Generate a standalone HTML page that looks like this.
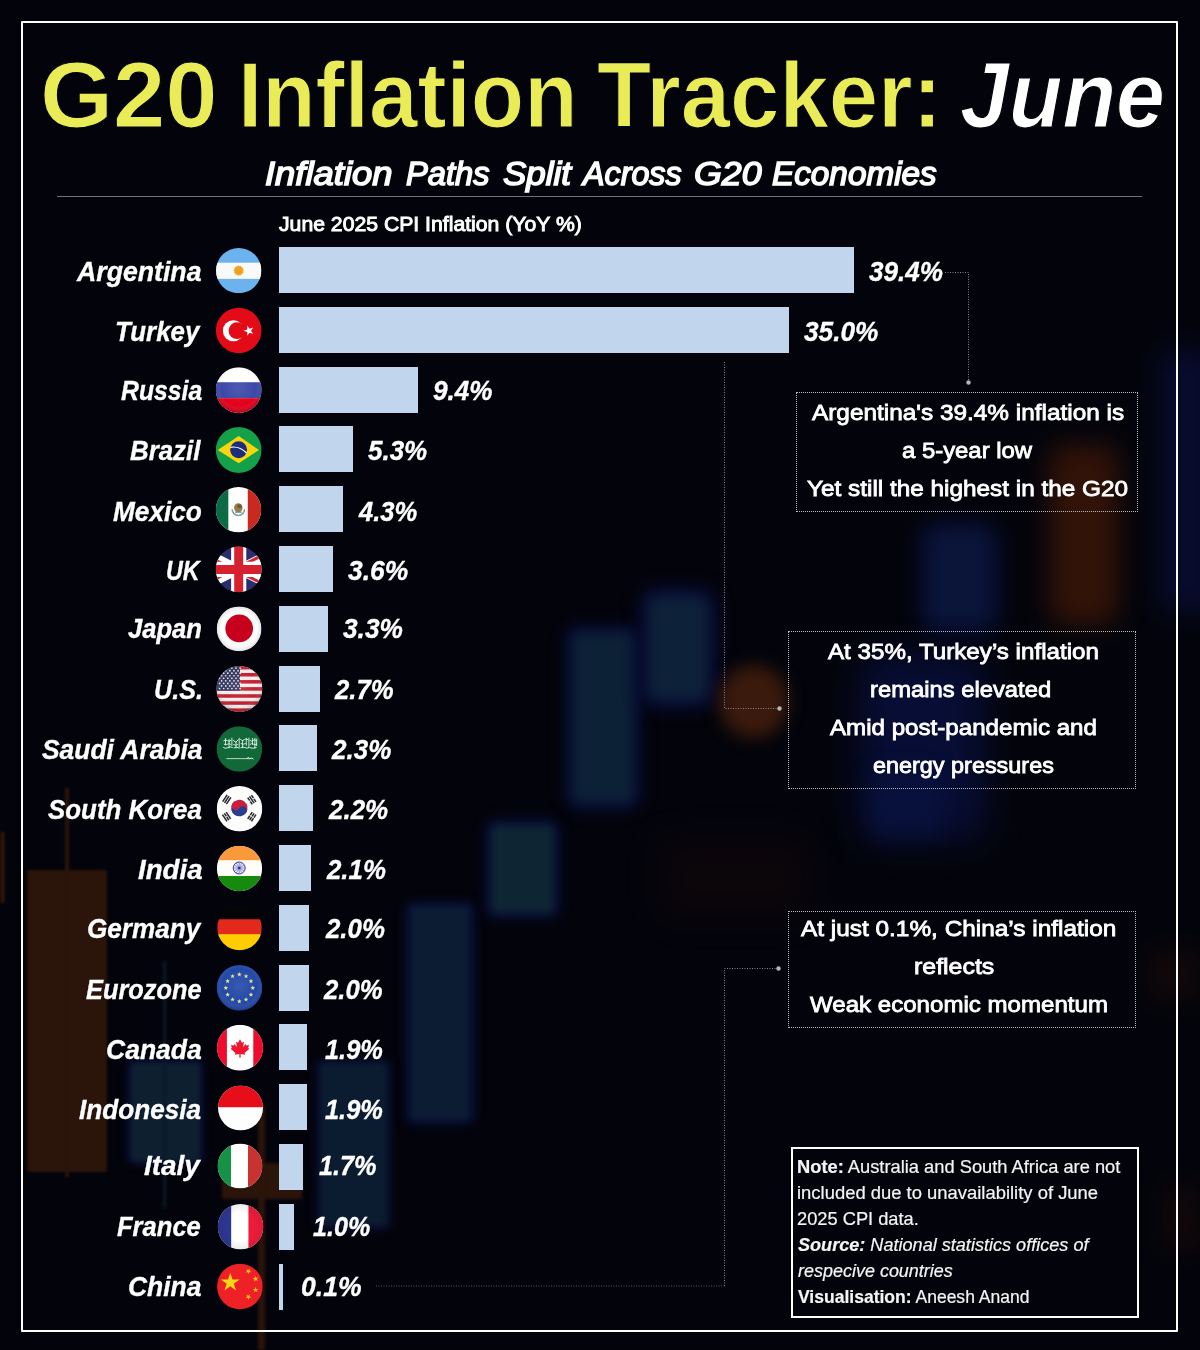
<!DOCTYPE html>
<html lang="en"><head><meta charset="utf-8"><title>G20 Inflation Tracker: June</title>
<style>
html,body{margin:0;padding:0}
body{width:1200px;height:1350px;background:#03040b;position:relative;overflow:hidden;font-family:"Liberation Sans",sans-serif;color:#fff}
.t{position:absolute;white-space:nowrap;line-height:1;transform-origin:0 0}
.bar{position:absolute;background:#c1d6ec}
.frame{position:absolute;left:21px;top:21px;width:1153px;height:1306.5px;border:2px solid #fff;border-radius:1px}
.rule{position:absolute;left:57px;top:196px;width:1085px;height:1px;background:#6f6f77}
.box{position:absolute;border:1px dotted #b9b9c0;box-sizing:border-box}
.note{position:absolute;left:791px;top:1147px;width:348px;height:171px;border:2px solid #fff;box-sizing:border-box}
.bg{position:absolute;left:0;top:0;width:1200px;height:1350px}
svg.ov{position:absolute;left:0;top:0}
.flag{position:absolute;width:46px;height:46px}
</style></head><body>
<div class="bg">
<div style="position:absolute;left:27px;top:870px;width:80px;height:302px;background:#2b140a;filter:blur(1.2px);border-radius:2px;"></div>
<div style="position:absolute;left:64.5px;top:788px;width:4.5px;height:389px;background:#2b140a;filter:blur(1px);"></div>
<div style="position:absolute;left:0px;top:832px;width:4.5px;height:71px;background:#2b140a;filter:blur(1px);"></div>
<div style="position:absolute;left:131px;top:1063px;width:69px;height:98px;background:#0e2030;filter:blur(2.5px);border-radius:3px;box-shadow:0 0 4px 4px #080d33;"></div>
<div style="position:absolute;left:163px;top:961px;width:3px;height:247px;background:#0b1a2a;filter:blur(1.5px);"></div>
<div style="position:absolute;left:320px;top:1063px;width:67px;height:163px;background:#0c1c30;filter:blur(3px);border-radius:3px;box-shadow:0 0 4px 4px #080d33;"></div>
<div style="position:absolute;left:410px;top:906px;width:60px;height:214px;background:#0c1d33;filter:blur(3.5px);border-radius:4px;box-shadow:0 0 5px 5px #080d36;"></div>
<div style="position:absolute;left:491px;top:825px;width:63px;height:88px;background:#0e2634;filter:blur(4.5px);border-radius:6px;box-shadow:0 0 6px 6px #080d38;"></div>
<div style="position:absolute;left:222px;top:1163px;width:80px;height:36px;background:#2b140a;filter:blur(1.5px);border-radius:2px;"></div>
<div style="position:absolute;left:258px;top:1105px;width:7px;height:245px;background:#2b140a;filter:blur(1.5px);"></div>
<div style="position:absolute;left:572px;top:632px;width:62px;height:171px;background:#0c2036;filter:blur(6px);border-radius:8px;box-shadow:0 0 7px 7px #080c3a;"></div>
<div style="position:absolute;left:648px;top:596px;width:60px;height:104px;background:#0d2138;filter:blur(7px);border-radius:10px;box-shadow:0 0 8px 8px #080c3e;"></div>
<div style="position:absolute;left:719px;top:665px;width:69px;height:73px;background:#3a1a0c;filter:blur(8px);border-radius:35px;"></div>
<div style="position:absolute;left:926px;top:528px;width:67px;height:100px;background:#0b163c;filter:blur(10px);border-radius:10px;box-shadow:0 0 6px 6px #080c38;opacity:0.95;"></div>
<div style="position:absolute;left:1049px;top:445px;width:70px;height:180px;background:#351408;filter:blur(13px);border-radius:16px;opacity:0.95;"></div>
<div style="position:absolute;left:1160px;top:350px;width:55px;height:262px;background:#090d32;filter:blur(14px);border-radius:10px;opacity:0.9;"></div>
<div style="position:absolute;left:860px;top:655px;width:125px;height:185px;background:#080f3a;filter:blur(18px);border-radius:20px;opacity:0.9;"></div>
<div style="position:absolute;left:870px;top:770px;width:70px;height:68px;background:#0a1442;filter:blur(10px);border-radius:10px;opacity:0.6;"></div>
<div style="position:absolute;left:1150px;top:950px;width:50px;height:50px;background:#2a0f08;filter:blur(12px);border-radius:10px;opacity:0.4;"></div>
<div style="position:absolute;left:1165px;top:1185px;width:35px;height:65px;background:#2a0f08;filter:blur(12px);border-radius:10px;opacity:0.4;"></div>
<div style="position:absolute;left:660px;top:840px;width:150px;height:75px;background:#1c0a0a;filter:blur(16px);border-radius:10px;opacity:0.35;"></div>
</div>
<div class="frame"></div>
<div class="rule"></div>
<div class="bar" style="left:279.0px;top:246.9px;width:574.8px;height:46.1px"></div>
<div class="bar" style="left:279.0px;top:306.8px;width:510.2px;height:46.1px"></div>
<div class="bar" style="left:279.0px;top:366.6px;width:139.0px;height:46.1px"></div>
<div class="bar" style="left:279.0px;top:426.3px;width:73.7px;height:46.1px"></div>
<div class="bar" style="left:279.0px;top:486.1px;width:63.7px;height:46.1px"></div>
<div class="bar" style="left:279.0px;top:546.0px;width:54.3px;height:46.1px"></div>
<div class="bar" style="left:279.0px;top:605.8px;width:48.7px;height:46.1px"></div>
<div class="bar" style="left:279.0px;top:665.5px;width:41.0px;height:46.1px"></div>
<div class="bar" style="left:279.0px;top:725.4px;width:37.7px;height:46.1px"></div>
<div class="bar" style="left:279.0px;top:785.1px;width:34.0px;height:46.1px"></div>
<div class="bar" style="left:279.0px;top:845.0px;width:32.0px;height:46.1px"></div>
<div class="bar" style="left:279.0px;top:904.8px;width:30.3px;height:46.1px"></div>
<div class="bar" style="left:279.0px;top:964.5px;width:30.3px;height:46.1px"></div>
<div class="bar" style="left:279.0px;top:1024.4px;width:28.0px;height:46.1px"></div>
<div class="bar" style="left:279.0px;top:1084.1px;width:28.0px;height:46.1px"></div>
<div class="bar" style="left:279.0px;top:1144.0px;width:24.0px;height:46.1px"></div>
<div class="bar" style="left:279.0px;top:1203.8px;width:15.0px;height:46.1px"></div>
<div class="bar" style="left:279.0px;top:1263.5px;width:4.0px;height:46.1px;"></div>
<svg class="ov" width="1200" height="1350" viewBox="0 0 1200 1350" fill="none" stroke="#85858d" stroke-width="1" stroke-dasharray="1 1.5">
<path d="M945 272.5H968.5V381"/>
<path d="M724.5 362V708.5H778"/>
<path d="M376 1286H724.5" stroke="#55555f"/><path d="M724.5 1286V968.5H777"/>
<g stroke="none" fill="#b5b5bb"><circle cx="968.5" cy="382.5" r="2.2"/><circle cx="779.5" cy="708.5" r="2.2"/><circle cx="778.5" cy="968.5" r="2.2"/></g>
</svg>
<div class="box" style="left:796px;top:391.5px;width:342px;height:120px"></div>
<div class="box" style="left:788px;top:631px;width:348px;height:158px"></div>
<div class="box" style="left:788px;top:911px;width:348px;height:117px"></div>
<div class="note"></div>
<svg class="ov" width="1200" height="1350" viewBox="0 0 1200 1350"><defs>
<radialGradient id="gloss" cx="0.5" cy="0.45" r="0.55"><stop offset="0" stop-color="#fff" stop-opacity="0.10"/><stop offset="0.7" stop-color="#fff" stop-opacity="0"/><stop offset="1" stop-color="#000" stop-opacity="0.22"/></radialGradient>
<radialGradient id="gloss2" cx="0.5" cy="0.5" r="0.5"><stop offset="0.8" stop-color="#000" stop-opacity="0"/><stop offset="1" stop-color="#000" stop-opacity="0.10"/></radialGradient>
<radialGradient id="gloss3" cx="0.5" cy="0.5" r="0.5"><stop offset="0.6" stop-color="#000" stop-opacity="0"/><stop offset="1" stop-color="#000" stop-opacity="0.08"/></radialGradient>
<clipPath id="fc"><circle cx="23" cy="23" r="23"/></clipPath></defs>
<g transform="translate(216.00 247.90) scale(0.9870)" clip-path="url(#fc)"><rect width="46" height="46" fill="#6cb2ee"/><rect y="15" width="46" height="16.4" fill="#f9f9f9"/>
<polygon points="23.00,17.40 23.88,18.59 25.14,17.83 25.50,19.26 26.96,19.04 26.74,20.50 28.17,20.86 27.41,22.12 28.60,23.00 27.41,23.88 28.17,25.14 26.74,25.50 26.96,26.96 25.50,26.74 25.14,28.17 23.88,27.41 23.00,28.60 22.12,27.41 20.86,28.17 20.50,26.74 19.04,26.96 19.26,25.50 17.83,25.14 18.59,23.88 17.40,23.00 18.59,22.12 17.83,20.86 19.26,20.50 19.04,19.04 20.50,19.26 20.86,17.83 22.12,18.59" fill="#f3b04a"/><circle cx="23" cy="23" r="3.9" fill="#eba21f"/></g>
<g transform="translate(215.90 307.70) scale(0.9913)" clip-path="url(#fc)"><rect width="46" height="46" fill="#e30b18"/><circle cx="17.6" cy="23.2" r="10.6" fill="#fff"/><circle cx="21.3" cy="23.2" r="8.5" fill="#e30b18"/>
<polygon points="27.90,23.20 31.63,21.99 31.63,18.06 33.94,21.24 37.67,20.03 35.36,23.20 37.67,26.37 33.94,25.16 31.63,28.34 31.63,24.41" fill="#fff"/></g>
<g transform="translate(215.80 367.20) scale(0.9957)" clip-path="url(#fc)"><rect width="46" height="46" fill="#fff"/><rect y="15.1" width="46" height="16" fill="#3b48a8"/><rect y="31.1" width="46" height="15" fill="#e2001b"/>
<circle cx="23" cy="23" r="23" fill="url(#gloss)"/></g>
<g transform="translate(215.80 427.10) scale(0.9957)" clip-path="url(#fc)"><rect width="46" height="46" fill="#15a04a"/><polygon points="2,23 23,8.9 43.4,23 23,36.3" fill="#f9d60b"/>
<circle cx="22.9" cy="22.8" r="8.5" fill="#1d2c7c"/><path d="M14.8 20.3Q23.5 18.6 30.9 26" stroke="#fff" stroke-width="1.2" fill="none"/></g>
<g transform="translate(215.80 487.00) scale(0.9870)" clip-path="url(#fc)"><rect width="46" height="46" fill="#fff"/><rect width="12.7" height="46" fill="#0a6b46"/><rect x="32.4" width="14" height="46" fill="#c9291f"/>
<path d="M16.5 22.5a6.3 6.3 0 0 0 12.6 0" stroke="#7fa58f" stroke-width="1.5" fill="none"/>
<ellipse cx="22.8" cy="21" rx="4.3" ry="4.6" fill="#9a7b4b"/><ellipse cx="24" cy="19.6" rx="2.2" ry="2" fill="#6e5a36"/><path d="M19.5 25.5h6.8" stroke="#5f8fa0" stroke-width="1.2"/></g>
<g transform="translate(215.75 546.45) scale(0.9978)" clip-path="url(#fc)"><rect width="46" height="46" fill="#2a2e6e"/>
<path d="M-23 0L69 46M-23 46L69 0" stroke="#fff" stroke-width="9"/>
<path d="M-23 0L23 23M69 46L23 23" stroke="#d2232f" stroke-width="3" transform="translate(-1.4 1.6)"/>
<path d="M-23 46L23 23M69 0L23 23" stroke="#d2232f" stroke-width="3" transform="translate(-1.4 -1.6)"/>
<path d="M23 0V46M0 23H46" stroke="#fff" stroke-width="15.2"/>
<path d="M23 0V46M0 23H46" stroke="#d8212e" stroke-width="9"/></g>
<g transform="translate(216.70 606.40) scale(0.9739)" clip-path="url(#fc)"><rect width="46" height="46" fill="#fdfdfd"/><circle cx="23.1" cy="22.6" r="14.2" fill="#c7001e"/><circle cx="23" cy="23" r="23" fill="url(#gloss2)"/></g>
<g transform="translate(216.40 665.90) scale(1.0000)" clip-path="url(#fc)"><rect width="46" height="46" fill="#f4ecec"/><rect y="0.00" width="46" height="3.54" fill="#c1212f"/><rect y="7.08" width="46" height="3.54" fill="#c1212f"/><rect y="14.15" width="46" height="3.54" fill="#c1212f"/><rect y="21.23" width="46" height="3.54" fill="#c1212f"/><rect y="28.31" width="46" height="3.54" fill="#c1212f"/><rect y="35.38" width="46" height="3.54" fill="#c1212f"/><rect y="42.46" width="46" height="3.54" fill="#c1212f"/><rect width="23.6" height="24.77" fill="#343a5e"/><circle cx="3.20" cy="2.20" r="0.85" fill="#e9e9f2"/><circle cx="7.30" cy="2.20" r="0.85" fill="#e9e9f2"/><circle cx="11.40" cy="2.20" r="0.85" fill="#e9e9f2"/><circle cx="15.50" cy="2.20" r="0.85" fill="#e9e9f2"/><circle cx="19.60" cy="2.20" r="0.85" fill="#e9e9f2"/><circle cx="23.70" cy="2.20" r="0.85" fill="#e9e9f2"/><circle cx="5.25" cy="4.75" r="0.85" fill="#e9e9f2"/><circle cx="9.35" cy="4.75" r="0.85" fill="#e9e9f2"/><circle cx="13.45" cy="4.75" r="0.85" fill="#e9e9f2"/><circle cx="17.55" cy="4.75" r="0.85" fill="#e9e9f2"/><circle cx="21.65" cy="4.75" r="0.85" fill="#e9e9f2"/><circle cx="3.20" cy="7.30" r="0.85" fill="#e9e9f2"/><circle cx="7.30" cy="7.30" r="0.85" fill="#e9e9f2"/><circle cx="11.40" cy="7.30" r="0.85" fill="#e9e9f2"/><circle cx="15.50" cy="7.30" r="0.85" fill="#e9e9f2"/><circle cx="19.60" cy="7.30" r="0.85" fill="#e9e9f2"/><circle cx="23.70" cy="7.30" r="0.85" fill="#e9e9f2"/><circle cx="5.25" cy="9.85" r="0.85" fill="#e9e9f2"/><circle cx="9.35" cy="9.85" r="0.85" fill="#e9e9f2"/><circle cx="13.45" cy="9.85" r="0.85" fill="#e9e9f2"/><circle cx="17.55" cy="9.85" r="0.85" fill="#e9e9f2"/><circle cx="21.65" cy="9.85" r="0.85" fill="#e9e9f2"/><circle cx="3.20" cy="12.40" r="0.85" fill="#e9e9f2"/><circle cx="7.30" cy="12.40" r="0.85" fill="#e9e9f2"/><circle cx="11.40" cy="12.40" r="0.85" fill="#e9e9f2"/><circle cx="15.50" cy="12.40" r="0.85" fill="#e9e9f2"/><circle cx="19.60" cy="12.40" r="0.85" fill="#e9e9f2"/><circle cx="23.70" cy="12.40" r="0.85" fill="#e9e9f2"/><circle cx="5.25" cy="14.95" r="0.85" fill="#e9e9f2"/><circle cx="9.35" cy="14.95" r="0.85" fill="#e9e9f2"/><circle cx="13.45" cy="14.95" r="0.85" fill="#e9e9f2"/><circle cx="17.55" cy="14.95" r="0.85" fill="#e9e9f2"/><circle cx="21.65" cy="14.95" r="0.85" fill="#e9e9f2"/><circle cx="3.20" cy="17.50" r="0.85" fill="#e9e9f2"/><circle cx="7.30" cy="17.50" r="0.85" fill="#e9e9f2"/><circle cx="11.40" cy="17.50" r="0.85" fill="#e9e9f2"/><circle cx="15.50" cy="17.50" r="0.85" fill="#e9e9f2"/><circle cx="19.60" cy="17.50" r="0.85" fill="#e9e9f2"/><circle cx="23.70" cy="17.50" r="0.85" fill="#e9e9f2"/><circle cx="5.25" cy="20.05" r="0.85" fill="#e9e9f2"/><circle cx="9.35" cy="20.05" r="0.85" fill="#e9e9f2"/><circle cx="13.45" cy="20.05" r="0.85" fill="#e9e9f2"/><circle cx="17.55" cy="20.05" r="0.85" fill="#e9e9f2"/><circle cx="21.65" cy="20.05" r="0.85" fill="#e9e9f2"/><circle cx="3.20" cy="22.60" r="0.85" fill="#e9e9f2"/><circle cx="7.30" cy="22.60" r="0.85" fill="#e9e9f2"/><circle cx="11.40" cy="22.60" r="0.85" fill="#e9e9f2"/><circle cx="15.50" cy="22.60" r="0.85" fill="#e9e9f2"/><circle cx="19.60" cy="22.60" r="0.85" fill="#e9e9f2"/><circle cx="23.70" cy="22.60" r="0.85" fill="#e9e9f2"/><circle cx="23" cy="23" r="23" fill="url(#gloss)"/></g>
<g transform="translate(216.60 726.20) scale(0.9913)" clip-path="url(#fc)"><rect width="46" height="46" fill="#11693a"/><g stroke="#e4f1e6" stroke-width="0.95" fill="none" stroke-linecap="round"><path d="M7.2 14.6q2-1.6 3.6 0t3.6-.2M7.6 18.2q1.6 1.5 3.4 0q1.6-1.4 3.2 0M7 21.6q2.4 1.4 4.6 0t4.4-.2M16.6 14l2.6 2.2l2.8-2.6M17.2 18.6q2 1.6 4 0M17.6 21.8q2.6-1.6 5.4.2M24.2 13.6q1.8 2 3.8 0t3.8.2M24.6 17.6q2.2 1.6 4.4 0M24.4 21.6q2-1.4 4.200 0t4.2-.2M33.6 14.400q1.600 1.6 3.2 0t3.2 0M33.800 18.200q1.800-1.400 3.400 0t3.200 0M34 21.800q2.600 1.200 6-.2"/><path d="M9 12.4v6M12.6 13.2v8.600M15.400 12v7.600M19.6 15.6v6.400M22.8 12.2v8.800M26.200 14.400v7.400M30 12.200v7M32.600 12v9.800M36.200 12.400v6M38.600 12.200v9.800M40.400 13v6.600" stroke-width="0.9"/></g><path d="M9.8 32.7H34.5" stroke="#e4f1e6" stroke-width="0.8"/><path d="M30.5 32.7l1.6-1.2l1.2 1.2l2.6-0.6l1.2 1.4" stroke="#e4f1e6" stroke-width="1" fill="none"/></g>
<g transform="translate(216.70 786.00) scale(0.9913)" clip-path="url(#fc)"><rect width="46" height="46" fill="#fdfdfd"/><g transform="rotate(33.7 22.8 22.3)"><path d="M14.5 22.3a8.3 8.3 0 0 1 16.6 0z" fill="#c9203d"/><path d="M14.5 22.3a8.3 8.3 0 0 0 16.6 0z" fill="#2c3d8e"/><circle cx="18.65" cy="22.3" r="4.15" fill="#c9203d"/><circle cx="26.95" cy="22.3" r="4.15" fill="#2c3d8e"/></g><g transform="translate(10.2 13.6) rotate(-56)" fill="#2b2b2e"><rect x="-4.1" y="-3.1" width="8.2" height="1.6"/><rect x="-4.1" y="-0.85" width="8.2" height="1.6"/><rect x="-4.1" y="1.4" width="8.2" height="1.6"/></g><g transform="translate(35.4 13.9) rotate(56)" fill="#2b2b2e"><rect x="-4.1" y="-3.1" width="3.7" height="1.6"/><rect x="0.4" y="-3.1" width="3.7" height="1.6"/><rect x="-4.1" y="-0.85" width="8.2" height="1.6"/><rect x="-4.1" y="1.4" width="3.7" height="1.6"/><rect x="0.4" y="1.4" width="3.7" height="1.6"/></g><g transform="translate(9.9 31) rotate(56)" fill="#2b2b2e"><rect x="-4.1" y="-3.1" width="8.2" height="1.6"/><rect x="-4.1" y="-0.85" width="3.7" height="1.6"/><rect x="0.4" y="-0.85" width="3.7" height="1.6"/><rect x="-4.1" y="1.4" width="8.2" height="1.6"/></g><g transform="translate(35.5 31) rotate(-56)" fill="#2b2b2e"><rect x="-4.1" y="-3.1" width="3.7" height="1.6"/><rect x="0.4" y="-3.1" width="3.7" height="1.6"/><rect x="-4.1" y="-0.85" width="3.7" height="1.6"/><rect x="0.4" y="-0.85" width="3.7" height="1.6"/><rect x="-4.1" y="1.4" width="3.7" height="1.6"/><rect x="0.4" y="1.4" width="3.7" height="1.6"/></g></g>
<g transform="translate(216.85 845.85) scale(0.9848)" clip-path="url(#fc)"><rect width="46" height="46" fill="#fffdf8"/><rect width="46" height="14.6" fill="#f8993b"/><rect y="30.6" width="46" height="16" fill="#158a0e"/>
<circle cx="22.7" cy="22.5" r="6.1" fill="#e8e9f7" stroke="#2c2f93" stroke-width="0.95"/><g stroke="#4a4fb0" stroke-width="0.55"><path d="M22.7 22.5L28.50 22.50"/><path d="M22.7 22.5L27.72 25.40"/><path d="M22.7 22.5L25.60 27.52"/><path d="M22.7 22.5L22.70 28.30"/><path d="M22.7 22.5L19.80 27.52"/><path d="M22.7 22.5L17.68 25.40"/><path d="M22.7 22.5L16.90 22.50"/><path d="M22.7 22.5L17.68 19.60"/><path d="M22.7 22.5L19.80 17.48"/><path d="M22.7 22.5L22.70 16.70"/><path d="M22.7 22.5L25.60 17.48"/><path d="M22.7 22.5L27.72 19.60"/></g><circle cx="22.7" cy="22.5" r="1.3" fill="#2c2f93"/></g>
<g transform="translate(217.20 905.70) scale(0.9696)" clip-path="url(#fc)"><rect width="46" height="46" fill="#050505"/><rect y="14" width="46" height="15.4" fill="#e3291c"/><rect y="29.3" width="46" height="17" fill="#ffcc03"/></g>
<g transform="translate(216.70 965.10) scale(0.9913)" clip-path="url(#fc)"><rect width="46" height="46" fill="#2249a8"/><circle cx="23" cy="23" r="23" fill="url(#gloss)"/><polygon points="36.40,20.50 37.02,22.15 38.78,22.23 37.40,23.32 37.87,25.02 36.40,24.05 34.93,25.02 35.40,23.32 34.02,22.23 35.78,22.15" fill="#ebe08e"/><polygon points="34.58,27.30 35.20,28.95 36.96,29.03 35.58,30.12 36.05,31.82 34.58,30.85 33.11,31.82 33.58,30.12 32.20,29.03 33.96,28.95" fill="#ebe08e"/><polygon points="29.60,32.28 30.22,33.93 31.98,34.01 30.60,35.10 31.07,36.80 29.60,35.83 28.13,36.80 28.60,35.10 27.22,34.01 28.98,33.93" fill="#ebe08e"/><polygon points="22.80,34.10 23.42,35.75 25.18,35.83 23.80,36.92 24.27,38.62 22.80,37.65 21.33,38.62 21.80,36.92 20.42,35.83 22.18,35.75" fill="#ebe08e"/><polygon points="16.00,32.28 16.62,33.93 18.38,34.01 17.00,35.10 17.47,36.80 16.00,35.83 14.53,36.80 15.00,35.10 13.62,34.01 15.38,33.93" fill="#ebe08e"/><polygon points="11.02,27.30 11.64,28.95 13.40,29.03 12.02,30.12 12.49,31.82 11.02,30.85 9.55,31.82 10.02,30.12 8.64,29.03 10.40,28.95" fill="#ebe08e"/><polygon points="9.20,20.50 9.82,22.15 11.58,22.23 10.20,23.32 10.67,25.02 9.20,24.05 7.73,25.02 8.20,23.32 6.82,22.23 8.58,22.15" fill="#ebe08e"/><polygon points="11.02,13.70 11.64,15.35 13.40,15.43 12.02,16.52 12.49,18.22 11.02,17.25 9.55,18.22 10.02,16.52 8.64,15.43 10.40,15.35" fill="#ebe08e"/><polygon points="16.00,8.72 16.62,10.37 18.38,10.45 17.00,11.55 17.47,13.24 16.00,12.27 14.53,13.24 15.00,11.55 13.62,10.45 15.38,10.37" fill="#ebe08e"/><polygon points="22.80,6.90 23.42,8.55 25.18,8.63 23.80,9.72 24.27,11.42 22.80,10.45 21.33,11.42 21.80,9.72 20.42,8.63 22.18,8.55" fill="#ebe08e"/><polygon points="29.60,8.72 30.22,10.37 31.98,10.45 30.60,11.55 31.07,13.24 29.60,12.27 28.13,13.24 28.60,11.55 27.22,10.45 28.98,10.37" fill="#ebe08e"/><polygon points="34.58,13.70 35.20,15.35 36.96,15.43 35.58,16.52 36.05,18.22 34.58,17.25 33.11,18.22 33.58,16.52 32.20,15.43 33.96,15.35" fill="#ebe08e"/></g>
<g transform="translate(217.00 1024.70) scale(1.0000)" clip-path="url(#fc)"><rect width="46" height="46" fill="#fff"/><rect width="9.9" height="46" fill="#f00b2c"/><rect x="36.3" width="10" height="46" fill="#f00b2c"/>
<path d="M23 14.6l1.9 3.5l2.1-1.1l-1 5.2l2.6-2.8l0.5 1.5l3-0.6l-1 3.1l1.3 0.7l-4.8 4.1l0.5 1.8l-4.5-0.7l0.1 3.6h-1.4l0.1-3.6l-4.5 0.7l0.5-1.8l-4.8-4.1l1.3-0.7l-1-3.1l3 0.6l0.5-1.5l2.6 2.8l-1-5.2l2.1 1.1z" fill="#ee1631"/></g>
<g transform="translate(218.00 1085.50) scale(0.9783)" clip-path="url(#fc)"><rect width="46" height="46" fill="#fefefe"/><rect width="46" height="22.2" fill="#e50e19"/></g>
<g transform="translate(217.60 1143.60) scale(0.9739)" clip-path="url(#fc)"><rect width="46" height="46" fill="#fff"/><rect width="13.8" height="46" fill="#179145"/><rect x="31.2" width="15" height="46" fill="#c8322f"/></g>
<g transform="translate(217.70 1203.90) scale(0.9913)" clip-path="url(#fc)"><rect width="46" height="46" fill="#fff"/><rect width="13.6" height="46" fill="#2f3692"/><rect x="31" width="15" height="46" fill="#ee1c3b"/><circle cx="23" cy="23" r="23" fill="url(#gloss3)"/></g>
<g transform="translate(217.05 1263.65) scale(0.9935)" clip-path="url(#fc)"><rect width="46" height="46" fill="#ee2126"/><polygon points="13.30,9.10 15.52,15.94 22.72,15.94 16.90,20.17 19.12,27.01 13.30,22.78 7.48,27.01 9.70,20.17 3.88,15.94 11.08,15.94" fill="#f9d616"/><polygon points="33.05,5.02 32.58,7.22 34.53,8.34 32.29,8.58 31.82,10.78 30.91,8.73 28.67,8.96 30.34,7.45 29.43,5.40 31.38,6.52" fill="#f7c51e"/><polygon points="41.48,13.75 39.98,15.42 41.10,17.37 39.05,16.46 37.54,18.13 37.77,15.89 35.72,14.98 37.92,14.51 38.16,12.27 39.28,14.22" fill="#f7c51e"/><polygon points="38.80,23.30 39.50,25.44 41.75,25.44 39.93,26.77 40.62,28.91 38.80,27.58 36.98,28.91 37.67,26.77 35.85,25.44 38.10,25.44" fill="#f7c51e"/><polygon points="33.05,30.72 32.58,32.92 34.53,34.04 32.29,34.28 31.82,36.48 30.91,34.43 28.67,34.66 30.34,33.15 29.43,31.10 31.38,32.22" fill="#f7c51e"/></g>
</svg>
<div class="t" style="left:40.23px;top:49.3px;font-size:92.30px;transform:scaleX(1.0181);font-weight:700;color:#e9eb57;-webkit-text-stroke:1.2px #03040b;">G20</div>
<div class="t" style="left:237.68px;top:49.3px;font-size:92.30px;transform:scaleX(0.9462);font-weight:700;color:#e9eb57;-webkit-text-stroke:1.2px #03040b;">Inflation</div>
<div class="t" style="left:597.08px;top:49.3px;font-size:92.30px;transform:scaleX(0.9606);font-weight:700;color:#e9eb57;-webkit-text-stroke:1.2px #03040b;">Tracker:</div>
<div class="t" style="left:960.10px;top:49.3px;font-size:92.30px;transform:scaleX(0.9510);font-weight:700;font-style:italic;-webkit-text-stroke:1.2px #03040b;">June</div>
<div class="t" style="left:264.70px;top:158.3px;font-size:32.70px;transform:scaleX(1.1140);font-style:italic;-webkit-text-stroke:1.5px #fff;">Inflation</div>
<div class="t" style="left:406.00px;top:158.3px;font-size:32.70px;transform:scaleX(1.0000);font-style:italic;-webkit-text-stroke:1.5px #fff;">Paths</div>
<div class="t" style="left:502.70px;top:158.3px;font-size:32.70px;transform:scaleX(1.0697);font-style:italic;-webkit-text-stroke:1.5px #fff;">Split</div>
<div class="t" style="left:582.96px;top:158.3px;font-size:32.70px;transform:scaleX(0.9874);font-style:italic;-webkit-text-stroke:1.5px #fff;">Across</div>
<div class="t" style="left:693.91px;top:158.3px;font-size:32.70px;transform:scaleX(1.0934);font-style:italic;-webkit-text-stroke:1.5px #fff;">G20</div>
<div class="t" style="left:771.70px;top:158.3px;font-size:32.70px;transform:scaleX(1.0185);font-style:italic;-webkit-text-stroke:1.5px #fff;">Economies</div>
<div class="t" style="left:279.30px;top:213.7px;font-size:20.20px;transform:scaleX(1.0500);-webkit-text-stroke:0.9px #fff;">June 2025 CPI Inflation (YoY %)</div>
<div class="t" style="left:76.94px;top:256.5px;font-size:28.34px;transform:scaleX(0.9414);font-weight:700;font-style:italic;-webkit-text-stroke:0.35px #fff;">Argentina</div>
<div class="t" style="left:869.00px;top:256.5px;font-size:28.34px;transform:scaleX(0.9213);font-weight:700;font-style:italic;-webkit-text-stroke:0.35px #fff;">39.4%</div>
<div class="t" style="left:115.48px;top:316.5px;font-size:28.34px;transform:scaleX(0.9120);font-weight:700;font-style:italic;-webkit-text-stroke:0.35px #fff;">Turkey</div>
<div class="t" style="left:804.20px;top:316.5px;font-size:28.34px;transform:scaleX(0.9262);font-weight:700;font-style:italic;-webkit-text-stroke:0.35px #fff;">35.0%</div>
<div class="t" style="left:120.70px;top:376.4px;font-size:28.34px;transform:scaleX(0.8750);font-weight:700;font-style:italic;-webkit-text-stroke:0.35px #fff;">Russia</div>
<div class="t" style="left:433.00px;top:376.4px;font-size:28.34px;transform:scaleX(0.9219);font-weight:700;font-style:italic;-webkit-text-stroke:0.35px #fff;">9.4%</div>
<div class="t" style="left:130.00px;top:435.6px;font-size:28.34px;transform:scaleX(0.9128);font-weight:700;font-style:italic;-webkit-text-stroke:0.35px #fff;">Brazil</div>
<div class="t" style="left:368.30px;top:435.6px;font-size:28.34px;transform:scaleX(0.9172);font-weight:700;font-style:italic;-webkit-text-stroke:0.35px #fff;">5.3%</div>
<div class="t" style="left:113.30px;top:496.6px;font-size:28.34px;transform:scaleX(0.9253);font-weight:700;font-style:italic;-webkit-text-stroke:0.35px #fff;">Mexico</div>
<div class="t" style="left:359.20px;top:496.6px;font-size:28.34px;transform:scaleX(0.9031);font-weight:700;font-style:italic;-webkit-text-stroke:0.35px #fff;">4.3%</div>
<div class="t" style="left:165.88px;top:556.0px;font-size:28.34px;transform:scaleX(0.8214);font-weight:700;font-style:italic;-webkit-text-stroke:0.35px #fff;">UK</div>
<div class="t" style="left:348.30px;top:556.0px;font-size:28.34px;transform:scaleX(0.9328);font-weight:700;font-style:italic;-webkit-text-stroke:0.35px #fff;">3.6%</div>
<div class="t" style="left:128.00px;top:614.4px;font-size:28.34px;transform:scaleX(0.9037);font-weight:700;font-style:italic;-webkit-text-stroke:0.35px #fff;">Japan</div>
<div class="t" style="left:342.70px;top:614.4px;font-size:28.34px;transform:scaleX(0.9266);font-weight:700;font-style:italic;-webkit-text-stroke:0.35px #fff;">3.3%</div>
<div class="t" style="left:154.11px;top:675.4px;font-size:28.34px;transform:scaleX(0.8885);font-weight:700;font-style:italic;-webkit-text-stroke:0.35px #fff;">U.S.</div>
<div class="t" style="left:335.21px;top:675.4px;font-size:28.34px;transform:scaleX(0.9077);font-weight:700;font-style:italic;-webkit-text-stroke:0.35px #fff;">2.7%</div>
<div class="t" style="left:41.70px;top:735.4px;font-size:28.34px;transform:scaleX(0.9327);font-weight:700;font-style:italic;-webkit-text-stroke:0.35px #fff;">Saudi Arabia</div>
<div class="t" style="left:331.92px;top:735.4px;font-size:28.34px;transform:scaleX(0.9185);font-weight:700;font-style:italic;-webkit-text-stroke:0.35px #fff;">2.3%</div>
<div class="t" style="left:47.70px;top:795.4px;font-size:28.34px;transform:scaleX(0.9137);font-weight:700;font-style:italic;-webkit-text-stroke:0.35px #fff;">South Korea</div>
<div class="t" style="left:328.62px;top:795.4px;font-size:28.34px;transform:scaleX(0.9169);font-weight:700;font-style:italic;-webkit-text-stroke:0.35px #fff;">2.2%</div>
<div class="t" style="left:137.70px;top:855.4px;font-size:28.34px;transform:scaleX(0.9769);font-weight:700;font-style:italic;-webkit-text-stroke:0.35px #fff;">India</div>
<div class="t" style="left:326.61px;top:855.4px;font-size:28.34px;transform:scaleX(0.9123);font-weight:700;font-style:italic;-webkit-text-stroke:0.35px #fff;">2.1%</div>
<div class="t" style="left:86.78px;top:914.4px;font-size:28.34px;transform:scaleX(0.9228);font-weight:700;font-style:italic;-webkit-text-stroke:0.35px #fff;">Germany</div>
<div class="t" style="left:325.91px;top:914.4px;font-size:28.34px;transform:scaleX(0.9123);font-weight:700;font-style:italic;-webkit-text-stroke:0.35px #fff;">2.0%</div>
<div class="t" style="left:85.70px;top:974.6px;font-size:28.34px;transform:scaleX(0.8953);font-weight:700;font-style:italic;-webkit-text-stroke:0.35px #fff;">Eurozone</div>
<div class="t" style="left:323.61px;top:974.6px;font-size:28.34px;transform:scaleX(0.9077);font-weight:700;font-style:italic;-webkit-text-stroke:0.35px #fff;">2.0%</div>
<div class="t" style="left:105.76px;top:1034.6px;font-size:28.34px;transform:scaleX(0.9356);font-weight:700;font-style:italic;-webkit-text-stroke:0.35px #fff;">Canada</div>
<div class="t" style="left:325.00px;top:1034.6px;font-size:28.34px;transform:scaleX(0.8953);font-weight:700;font-style:italic;-webkit-text-stroke:0.35px #fff;">1.9%</div>
<div class="t" style="left:79.30px;top:1095.4px;font-size:28.34px;transform:scaleX(0.9235);font-weight:700;font-style:italic;-webkit-text-stroke:0.35px #fff;">Indonesia</div>
<div class="t" style="left:325.00px;top:1095.4px;font-size:28.34px;transform:scaleX(0.8953);font-weight:700;font-style:italic;-webkit-text-stroke:0.35px #fff;">1.9%</div>
<div class="t" style="left:144.00px;top:1151.4px;font-size:28.34px;transform:scaleX(0.9862);font-weight:700;font-style:italic;-webkit-text-stroke:0.35px #fff;">Italy</div>
<div class="t" style="left:319.00px;top:1151.4px;font-size:28.34px;transform:scaleX(0.8906);font-weight:700;font-style:italic;-webkit-text-stroke:0.35px #fff;">1.7%</div>
<div class="t" style="left:117.30px;top:1212.4px;font-size:28.34px;transform:scaleX(0.9022);font-weight:700;font-style:italic;-webkit-text-stroke:0.35px #fff;">France</div>
<div class="t" style="left:313.30px;top:1212.4px;font-size:28.34px;transform:scaleX(0.8859);font-weight:700;font-style:italic;-webkit-text-stroke:0.35px #fff;">1.0%</div>
<div class="t" style="left:128.37px;top:1272.4px;font-size:28.34px;transform:scaleX(0.9338);font-weight:700;font-style:italic;-webkit-text-stroke:0.35px #fff;">China</div>
<div class="t" style="left:301.06px;top:1272.4px;font-size:28.34px;transform:scaleX(0.9365);font-weight:700;font-style:italic;-webkit-text-stroke:0.35px #fff;">0.1%</div>
<div class="t" style="left:811.70px;top:401.4px;font-size:22.97px;transform:scaleX(1.0609);-webkit-text-stroke:0.85px #fff;">Argentina's 39.4% inflation is</div>
<div class="t" style="left:902.00px;top:439.4px;font-size:22.97px;transform:scaleX(1.0397);-webkit-text-stroke:0.85px #fff;">a 5-year low</div>
<div class="t" style="left:807.00px;top:476.8px;font-size:22.97px;transform:scaleX(1.0594);-webkit-text-stroke:0.85px #fff;">Yet still the highest in the G20</div>
<div class="t" style="left:828.30px;top:639.9px;font-size:22.97px;transform:scaleX(1.0523);-webkit-text-stroke:0.85px #fff;">At 35%, Turkey’s inflation</div>
<div class="t" style="left:869.76px;top:677.9px;font-size:22.97px;transform:scaleX(1.0358);-webkit-text-stroke:0.85px #fff;">remains elevated</div>
<div class="t" style="left:830.00px;top:716.2px;font-size:22.97px;transform:scaleX(1.0506);-webkit-text-stroke:0.85px #fff;">Amid post-pandemic and</div>
<div class="t" style="left:872.90px;top:753.7px;font-size:22.97px;transform:scaleX(1.0192);-webkit-text-stroke:0.85px #fff;">energy pressures</div>
<div class="t" style="left:800.80px;top:917.0px;font-size:22.97px;transform:scaleX(1.0615);-webkit-text-stroke:0.85px #fff;">At just 0.1%, China’s inflation</div>
<div class="t" style="left:914.32px;top:954.5px;font-size:22.97px;transform:scaleX(1.0849);-webkit-text-stroke:0.85px #fff;">reflects</div>
<div class="t" style="left:809.60px;top:992.9px;font-size:22.97px;transform:scaleX(1.0482);-webkit-text-stroke:0.85px #fff;">Weak economic momentum</div>
<div class="t" style="left:796.88px;top:1157.5px;font-size:18.02px;transform:scaleX(1.0154);color:#f4f4f4;-webkit-text-stroke:0.2px #f4f4f4;"><b>Note:</b> Australia and South Africa are not</div>
<div class="t" style="left:796.88px;top:1183.9px;font-size:18.02px;transform:scaleX(1.0225);color:#f4f4f4;-webkit-text-stroke:0.2px #f4f4f4;">included due to unavailability of June</div>
<div class="t" style="left:796.89px;top:1210.0px;font-size:18.02px;transform:scaleX(1.0136);color:#f4f4f4;-webkit-text-stroke:0.2px #f4f4f4;">2025 CPI data.</div>
<div class="t" style="left:797.90px;top:1236.0px;font-size:18.02px;transform:scaleX(1.0038);color:#f4f4f4;-webkit-text-stroke:0.2px #f4f4f4;"><i><b>Source:</b> National statistics offices of</i></div>
<div class="t" style="left:797.90px;top:1262.0px;font-size:18.02px;transform:scaleX(0.9974);color:#f4f4f4;-webkit-text-stroke:0.2px #f4f4f4;"><i>respecive countries</i></div>
<div class="t" style="left:797.90px;top:1288.0px;font-size:18.02px;transform:scaleX(0.9722);color:#f4f4f4;-webkit-text-stroke:0.2px #f4f4f4;"><b>Visualisation:</b> Aneesh Anand</div>
</body></html>
